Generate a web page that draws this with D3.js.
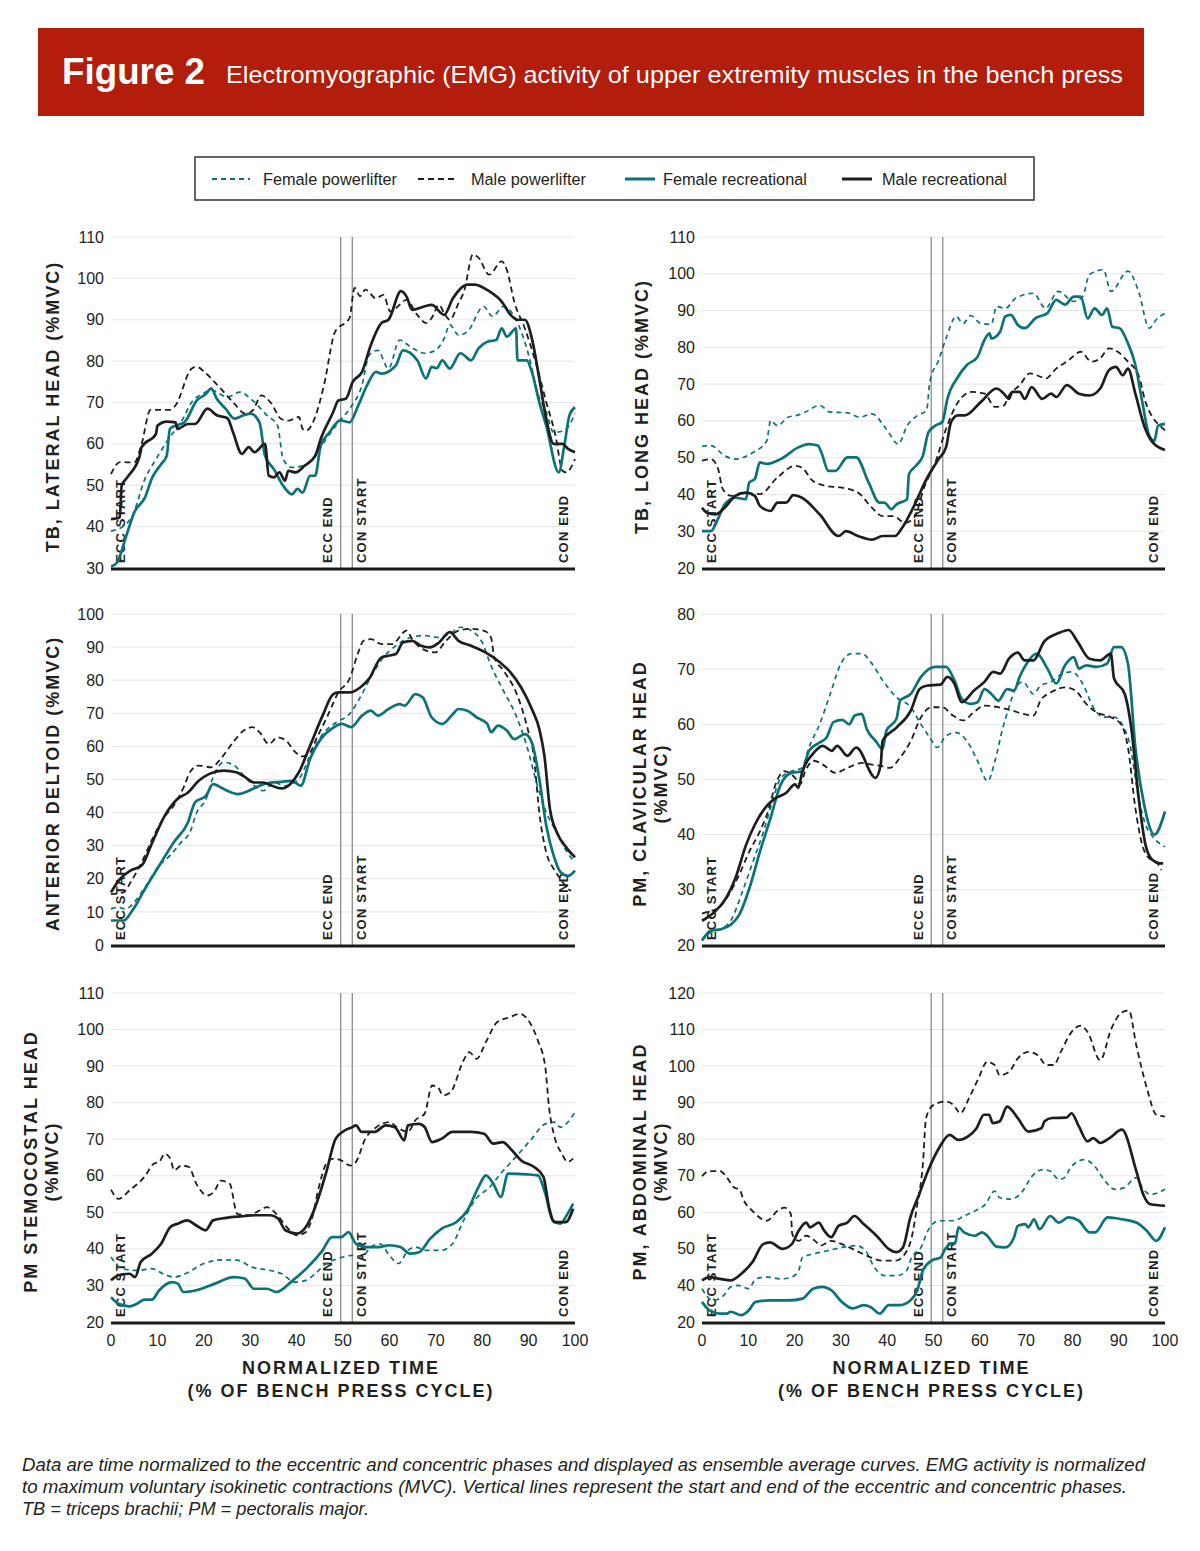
<!DOCTYPE html>
<html lang="en">
<head>
<meta charset="UTF-8">
<title>Figure 2 - EMG bench press</title>
<script src="https://d3js.org/d3.v7.min.js"></script>
<style>
  body { margin: 0; background: #fff; }
  svg { display: block; font-family: "Liberation Sans", Arial, Helvetica, sans-serif; }
  .tick-label { font-size: 16px; fill: #231f20; }
  .axis-title { font-size: 18px; font-weight: bold; fill: #231f20; letter-spacing: 2px; }
  .phase { font-size: 13px; font-weight: bold; fill: #231f20; letter-spacing: 1.2px; }
</style>
</head>
<body>
<div id="chart"></div>
<script>
// ---- series: [normalized time %, EMG %MVC] ----
const seriesNames = ["Female powerlifter", "Male powerlifter", "Female recreational", "Male recreational"];
const phaseX = [49.5, 52];
const phaseLabels = [["ECC START", 2.3], ["ECC END", 46.9], ["CON START", 54.2], ["CON END", 97.7]];
const xTicks = [0, 10, 20, 30, 40, 50, 60, 70, 80, 90, 100];

// TB, lateral head
const latFP = [[0,38.9],[3.5,40.9],[4.6,42.6],[7.3,51.5],[9.7,56.3],[12.4,61.2],[15.1,65.2],[17.4,70.1],[19.7,72.1],[21.6,73],[25.1,71.3],[27.8,72.5],[30.5,70.5],[33.6,66.9],[35.9,64.4],[37.1,56.3],[39,54.3],[41.3,54.7],[43.6,56.3],[45.9,60.4],[49,65.2],[51.7,68.9],[54.1,74.2],[55.6,81.4],[57.5,82.6],[59.8,78.2],[62.2,85.1],[64.5,83.5],[67.6,81.9],[69.9,82.6],[71.8,85.5],[73,88.8],[74.9,86.3],[76.8,87.1],[80.3,93.2],[82.2,90.8],[84.6,93.2],[87.3,90],[90,81.5],[91.9,72.5],[93.8,67.7],[95.4,62.8],[97.7,63.2],[100,67.3]];
const latMP = [[0,52.7],[1.9,55.6],[5,55.5],[6.6,60],[8.5,68.2],[12.7,68.2],[13.9,69.3],[17.4,78.2],[18.5,78.6],[20.5,77],[23.6,73.4],[26.3,70.1],[29,67.3],[30.5,68],[32.4,71.7],[34.4,70],[36.7,66],[38.2,65.6],[40.5,66.5],[41.3,63.6],[42.1,63.2],[44,66.5],[45.9,74.2],[48.3,87.1],[51.4,90.4],[52.5,97.7],[53.7,95.7],[54.8,97.3],[57.1,95.2],[58.7,96],[60.2,92],[61.4,92.8],[63.7,94.8],[66,91.2],[67.9,89.2],[69.1,90.4],[70.7,93.6],[71.8,91.6],[73,90],[74.9,94],[76.1,96.9],[78,105.8],[79.2,105],[81.5,100.9],[84.2,104.1],[85.3,102.1],[86.9,94.4],[89.2,87.9],[91.5,79.8],[93.8,70.1],[95.8,62],[97.3,53.5],[98.1,53.1],[100,56.3]];
const latFR = [[0,30.4],[1.2,31.2],[3.5,38.5],[5,43.4],[7.3,47],[8.9,51.9],[10.8,55.1],[12,57.1],[12.7,63.6],[13.9,64.4],[15.8,65.2],[18.5,70.5],[20.5,72.1],[21.6,73.4],[22.8,70.9],[24.7,68.5],[26.6,66.1],[28.6,66.9],[30.1,67.3],[32,65.2],[33.2,57.1],[35.1,53.9],[37.1,49.9],[39,47.8],[40.2,49.1],[41.3,48.2],[42.9,52.3],[44,52.3],[45.2,59.6],[47.1,62.8],[49.4,65.7],[51.4,65.2],[53.3,69.3],[55.2,74.2],[57.1,77.4],[58.3,77],[61.4,79],[62.9,82.6],[66,80.2],[67.9,75.8],[69.1,78.6],[70.2,78.3],[71.4,80.2],[73,78.2],[75.3,81.9],[77.6,80.2],[79.2,83.1],[81.1,84.7],[83,85.1],[84.2,87.9],[85.3,85.9],[87.3,87.9],[87.6,80.2],[89.6,80.2],[90.7,77.4],[92.3,70.1],[93.8,64.4],[96.5,53.1],[97.7,59.6],[98.8,66.9],[100,68.9]];
const latMR = [[0,41.8],[1.9,42.2],[2.3,49.9],[3.5,51.9],[6.2,57.1],[6.6,59.2],[9.7,62.4],[10,64.4],[12,65.4],[13.9,65.2],[14.3,63.6],[16.6,64.8],[18.1,64.8],[20.8,68.5],[22.8,66.9],[25.1,66.2],[26.3,62.8],[28.2,57.6],[29.7,59.2],[30.9,58],[33.2,60],[34,52.3],[35.1,51.9],[36.3,53.1],[37.5,51.1],[38.2,53.5],[39.8,53.1],[41.7,54.7],[44,57.1],[45.2,61.2],[47.9,67.7],[49,70.5],[50.6,70.9],[52.1,75],[54.1,77.4],[56,83.9],[58.3,89.2],[59.8,90],[62.5,96.9],[63.7,95.6],[64.9,92.4],[69.1,93.6],[71.8,91.2],[73.7,95.2],[76.8,98.5],[78.4,98.5],[81.5,96.9],[84.2,94.4],[86.1,91.2],[87.6,90],[89.2,90],[90.7,85.5],[92.3,75.8],[93.8,66.1],[95.4,60],[97.3,60],[98.5,58.8],[100,58]];

// TB, long head
const longFP = [[0,53.1],[1.9,53.3],[4.9,50.5],[7.2,49.6],[11,51.4],[14,54.6],[14.8,60.1],[16.3,58.7],[18.6,61],[20.5,61.5],[22.3,62.4],[25.4,64.2],[27.7,62.4],[31.4,62.2],[34.1,61],[36.7,61.9],[39.8,57.8],[42.4,53.7],[44.3,58.7],[46.6,61.5],[48.5,62.8],[49.2,70.6],[51.1,76.5],[52.7,82.4],[54.9,88.4],[56.4,86.5],[58,88.6],[60.2,86.5],[62.5,86.3],[63.6,91.1],[65.5,90.6],[67.8,93.4],[71.6,94.7],[74.2,90.6],[76.9,95.2],[80.3,92.5],[82.2,93.8],[83.7,99.8],[86.7,101.1],[88.3,95.2],[92,100.7],[94.3,95.2],[96.6,85.2],[98.1,87.5],[100,89.3]];
const longMP = [[0,49.2],[1.9,49.6],[3.4,47.3],[4.5,41.4],[6.4,39.6],[8.7,40.5],[12.5,40.1],[16.3,44.6],[20.1,47.8],[21.6,47.3],[23.9,43.7],[26.9,42.3],[29.9,41.9],[33.7,40.5],[36.7,36.4],[39,34.1],[41.3,34.1],[43.9,32.3],[45.8,33.7],[48.1,42.3],[50.4,48.7],[52.7,57.8],[55.3,65.1],[58.3,67.9],[61,67.4],[63.3,63.8],[65.2,64.2],[66.3,66.9],[68.6,69.7],[70.8,72.9],[73.1,72],[74.2,71.5],[76.5,74.2],[79.2,76.5],[81.8,78.8],[84.1,76.1],[86,77],[87.9,79.7],[89.8,78.8],[92,76.1],[94.3,72.4],[95.8,65.1],[97.3,61],[98.9,58.7],[100,57.4]];
const longFR = [[0,30],[1.9,30],[3.4,33.2],[4.9,37.3],[7.2,39.1],[9.5,38.7],[10.2,43.2],[11.4,44.2],[12.5,48.7],[14,48.3],[17,49.6],[20.8,52.8],[23.1,53.7],[25,53.3],[25.8,51.4],[27.3,46.4],[28.8,46.4],[31.4,50.1],[33.3,50.1],[36,43.2],[38.3,37.8],[39.4,37.8],[40.9,36],[42,37.3],[44.3,38.7],[44.7,45.5],[46.2,47.8],[47.7,50.5],[48.9,56.9],[50.4,58.7],[51.9,59.7],[53,66],[55.3,72],[57.2,75.2],[59.5,77.4],[61,82],[62.1,83.8],[62.5,82.4],[64.4,84.3],[65.5,88.4],[66.7,88.8],[68.2,86.1],[69.7,85.2],[72,87.9],[74.6,89.3],[76.5,92.9],[78.4,91.6],[80.3,93.8],[81.8,93.8],[83.3,87.9],[84.8,90.6],[86.4,88.8],[87.5,90.6],[88.6,85.6],[90.2,85.2],[92,81.1],[93.6,75.2],[95.1,65.1],[96.6,56],[97.7,54.6],[98.5,58.7],[100,59.2]];
const longMR = [[0,36.4],[1.1,35],[3,34.6],[4.9,36.4],[7.2,39.6],[9.5,40.5],[11.4,39.6],[12.5,36.9],[14.8,35.5],[16.3,37.8],[18.2,37.8],[19.7,39.8],[21.6,39.1],[25.4,34.6],[29.5,28.7],[31.1,30],[33.7,28.7],[36.7,27.7],[39,28.7],[41.7,28.7],[43.2,30.9],[45.8,36.9],[48.5,44.2],[51.1,49.6],[52.7,52.8],[53.8,59.7],[55.3,61.5],[56.8,61.5],[60.2,65.1],[63.6,68.8],[65.2,67.4],[66.3,66],[67,67.9],[68.6,67.9],[69.7,66],[71.2,69.2],[73.5,66],[75.4,67.4],[76.5,66.5],[78.8,69.7],[81.4,67.4],[83.7,66.9],[86,68.8],[87.9,73.8],[89.4,74.7],[90.9,72.4],[92,74.2],[93.6,67.4],[95.5,58.7],[97.3,54.2],[100,52.1]];

// Anterior deltoid
const deltFP = [[0,10.9],[1.5,11.4],[3.1,10.9],[5,12.9],[7.3,17.4],[10.4,24],[12.7,27],[15.1,31],[17,34],[18.5,40.1],[20.5,44.1],[22,50.7],[24.3,55.2],[26.6,54.2],[28.9,50.7],[30.9,48.1],[32.8,46.6],[35.1,49.1],[37.5,48.1],[40.5,50.2],[42.9,57.2],[45.9,64.2],[48.6,67.3],[51.4,69.8],[53.7,74.8],[56,80.9],[58.7,86.9],[61.4,90.4],[64.5,92.9],[67.6,93.5],[70.7,92.9],[73,94],[75.3,96],[77.6,95],[80,91.4],[81.9,84.4],[84.6,76.8],[87.3,69.3],[89.6,60.2],[91.9,48.1],[93.8,40.1],[96.1,34],[98.1,28.5],[100,25]];
const deltMP = [[0,15.4],[2.7,15.9],[4.2,18.9],[6.6,25],[8.9,32],[11.2,38.1],[13.5,42.1],[15.8,48.1],[17,52.2],[18.9,54.2],[21.6,53.7],[23.6,56.2],[26.3,61.2],[28.6,64.8],[30.5,65.8],[32,64.3],[34,60.7],[35.9,62.7],[37.8,61.7],[39.4,58.7],[41.3,57],[42.9,58.2],[44.4,62.7],[46.7,69.3],[49,76.3],[51.4,80.4],[53.3,88.4],[54.4,91.9],[56,92.4],[58.3,90.9],[60.6,90.9],[63.7,95],[64.9,92.4],[67.2,89.4],[69.9,88.4],[72.2,91.9],[74.9,95],[77.6,95.5],[80.3,95],[81.9,92.9],[82.6,86.9],[84.6,82.9],[87.6,75.3],[90,64.2],[91.1,57.2],[92.3,40.1],[93.8,28],[95.4,23],[96.9,19.9],[98.5,16.9],[99.2,16.4]];
const deltFR = [[0,7.4],[2.7,7.4],[4.6,10.4],[7.3,16.9],[10.4,24],[13.5,31],[16.6,37.1],[18.1,43.1],[20.5,45.1],[22,48.6],[24.3,47.1],[27.4,45.6],[29.7,46.6],[32,48.1],[34.4,49.1],[36.7,49.3],[39,49.6],[40.9,48.1],[42.9,56.2],[45.2,62.2],[47.5,65.3],[49.8,66.8],[51.7,65.8],[54.1,69.3],[56,70.8],[57.5,69.3],[59.8,71.3],[62.2,72.8],[63.3,72.3],[65.6,75.8],[67.2,74.8],[69.1,68.8],[71.4,66.8],[73.4,69.3],[74.9,71.3],[76.8,70.8],[78.8,68.8],[81.1,66.8],[81.9,64.3],[83.4,66.3],[85.3,64.8],[86.9,62.2],[89.2,63.7],[90.7,61.2],[92.3,50.2],[93.8,36.1],[95.4,27],[96.9,22],[98.5,20.9],[100,22.5]];
const deltMR = [[0,15.9],[1.9,19.9],[4.2,22.5],[6.6,24],[8.9,31],[11.6,39.1],[14.3,44.1],[16.6,46.1],[18.9,49.6],[21.2,51.7],[24.3,52.7],[27,52.2],[28.9,50.7],[30.9,49.1],[32.8,49.1],[34.7,48.1],[36.7,47.3],[38.6,48.6],[40.5,52.2],[42.9,60.2],[45.6,69.3],[47.9,75.8],[49,76.3],[51.4,76.3],[53.7,77.8],[55.6,80.4],[58.3,86.9],[59.8,87.4],[61.4,87.9],[62.9,91.4],[64.9,91.9],[66.8,90.4],[68.7,89.9],[70.7,91.4],[73,94.5],[74.9,91.9],[77.6,90.4],[80.7,88.4],[83.8,85.4],[86.1,82.4],[88.4,77.8],[90.7,71.3],[92.3,65.3],[93.4,57.2],[94.6,41.1],[96.1,34],[98.1,29.5],[100,26.5]];

// PM, clavicular head
const clavFP = [[0,20.8],[1.9,22.3],[4.2,22.9],[6.4,24.7],[8.7,29.6],[11,35.1],[13.3,40.6],[15.2,46],[17,50.3],[19.3,51.5],[21.6,52.1],[23.1,55.8],[25.4,60],[27.7,65.5],[30,71],[32.3,72.8],[34.5,72.8],[36.7,71],[39,68],[42,64.9],[45.1,63.1],[47.3,60],[49.2,57.6],[50.8,55.8],[52.7,57.9],[54.9,58.5],[57.2,57],[59.5,53.4],[61.7,49.7],[63.3,53.4],[64.8,58.8],[66.3,63.1],[67.8,66.7],[69.3,67.7],[71.6,65.5],[73.1,67],[75.4,67.7],[77.3,68.9],[79.9,69.5],[82.2,67.4],[84.5,63.1],[86.7,61.3],[89,61.3],[90.9,59.7],[92.4,56.4],[94.3,46.7],[95.8,41.8],[97.3,39.7],[100,37.8]];
const clavMP = [[0,25.7],[1.1,26],[3.4,26.6],[5.7,29],[8,32.7],[10.2,36.9],[12.5,40.6],[14,43.6],[16.3,50],[17.8,51.5],[20.1,50.3],[21.2,49.1],[22.3,51.5],[24.2,53.4],[26.1,52.7],[28.8,51.2],[31.4,52.1],[34.5,53],[36.7,52.7],[39,52.4],[40.5,52.1],[42.8,54],[45.1,57],[47.3,61.3],[49.6,63.1],[51.9,63.1],[54.2,61.6],[56.4,60.7],[58.7,62.2],[61,63.4],[64,63.1],[67,62.5],[69.3,61.9],[71.6,61.6],[73.1,64.3],[75.4,65.8],[78.4,66.7],[80.7,66.1],[83,63.7],[85.2,62.2],[88.3,61.3],[90.5,60],[92,55.8],[93.6,44.8],[95.1,38.1],[96.6,35.7],[98.1,35.1],[99.2,33.6]];
const clavFR = [[0,20.8],[1.9,22.6],[4.2,22.9],[6.4,23.8],[8,25.4],[10.2,30.2],[12.5,36.9],[14.8,43],[17,49.1],[19.3,51.2],[21.6,51.5],[23.1,55.2],[25.4,56.7],[26.9,57.6],[28.4,60.4],[30.3,60.8],[31.8,60],[33,61.6],[34.5,61.9],[35.6,59.1],[37.5,57],[39,55.5],[39.8,58.8],[42,61],[42.8,64.3],[45.1,65.5],[47.3,68.6],[50.4,70.4],[52.7,70.4],[54.5,68],[56.1,64.6],[58,63.7],[59.5,64],[61,66.4],[62.5,65.5],[64,64.3],[65.9,66.4],[67.4,66.1],[68.6,68.6],[70.1,71],[72.3,72.8],[74.6,70.1],[76.5,67.4],[78.4,70.7],[80.3,72.2],[81.4,70.1],[83,70.7],[85.2,70.4],[87.5,71],[89,74],[90.5,74],[92,71],[93.6,55.8],[95.5,45.4],[97.7,40],[100,44.2]];
const clavMR = [[0,24.4],[2.7,26],[4.9,28.1],[7.2,32.1],[9.5,38.1],[11.4,41.8],[13.6,44.8],[15.5,46.4],[18.2,47.6],[20.1,49.1],[20.8,48.5],[21.6,51.2],[23.9,54.6],[26.1,56.1],[28,55.2],[29.2,56.1],[31.4,54.3],[33.3,55.8],[37.5,50.3],[38.6,52.7],[39,57],[42,59.4],[45.1,62.5],[47,66.4],[48.5,67],[51.5,67.2],[53,68.6],[54.5,67.4],[56.1,64],[58.7,66.1],[61,67.7],[62.9,69.5],[64.4,69.2],[66.3,71.9],[68.2,73],[69.7,71.6],[71.6,71.6],[73.9,75],[76.9,76.5],[79.2,77.1],[81.1,75],[83.7,71.9],[86,71.6],[88.3,72.8],[89,68.3],[91.3,65.5],[92.8,58.8],[94.3,46.7],[95.8,38.1],[97.3,35.4],[98.9,34.8],[99.6,34.8]];

// PM, sternocostal head
const sternFP = [[0,37.8],[2.4,34.6],[5.6,34.1],[8.8,34.6],[11.2,33.2],[13.6,32.3],[16,33.2],[20,36],[24,37],[27.2,36.9],[30.4,35],[34.4,34.1],[36.8,33.2],[39.6,30.9],[42,31.4],[44,33.2],[46.4,36],[48.8,37.3],[52,38.2],[54,37.8],[56,40.5],[58,41.4],[60,38.2],[62,36],[64,39.6],[65.6,40.5],[68,39.6],[71.2,39.6],[73.6,41.4],[76,47.8],[78.4,53.3],[81.6,56.9],[84,60.6],[87.2,65.1],[90.4,69.7],[93.6,74.2],[95.6,74.7],[96.8,73.3],[100,77.4]];
const sternMP = [[0,56.2],[1.6,53.7],[4,56],[7.2,59.7],[9.2,63.3],[10.4,63.8],[11.6,66],[12.8,64.7],[13.6,61.5],[15.2,62.8],[16.8,62.4],[18.4,57.8],[20.8,54.6],[22.4,56],[23.6,58.7],[25.6,57.8],[27.2,49.6],[29.6,49.2],[32,50.5],[33.6,51.4],[35.6,49.6],[37.6,46.4],[40,43.7],[42,44.6],[43.2,47.8],[44.8,56.9],[46.4,63.3],[48,64.7],[49.6,64.2],[51.6,62.8],[52.8,63.8],[54.8,70.1],[56.8,72.9],[60,74.7],[61.6,73.3],[64,72],[65.6,75.2],[67.6,77],[69.2,84.7],[70.4,84.3],[71.6,82],[73.2,82.9],[76,91.6],[77.2,93.8],[78.8,92],[80.8,96.6],[83.2,102],[86,103.4],[88,104.3],[90.4,101.6],[92,97],[93.6,89.7],[94.4,78.8],[95.6,70.6],[97.2,66],[98.4,63.8],[99.6,64.7]];
const sternFR = [[0,26.8],[1.6,25],[4,24.3],[5.6,25],[7.2,26.1],[8.8,26.1],[10.4,28.7],[13.2,30.9],[14.4,30.5],[15.6,28.2],[18.4,28.7],[22.4,30.5],[26.4,32.3],[28.8,31.9],[30.8,29.1],[33.6,29.1],[35.6,28.2],[39.2,31.4],[42.4,35],[45.6,39.6],[47.6,43.2],[49.6,43.2],[51.2,44.6],[52.8,41.4],[55.2,40.5],[57.6,40.5],[60,41],[62.4,40.5],[64.4,38.7],[66.4,39.1],[68.8,42.8],[71.2,45.5],[74.4,47.3],[76.8,50.5],[79.2,56.9],[80.8,60.1],[82.4,57.8],[84,54.2],[85.6,60.6],[89.6,60.4],[92,60.1],[93.6,55.1],[95.2,47.8],[96.8,46.9],[98.4,49.6],[99.6,52.4]];
const sternMR = [[0,31.4],[1.6,32.8],[4,33.2],[5.2,32.3],[6.4,36.4],[8.8,38.7],[10.8,41.4],[12.8,46],[14.4,46.9],[16.4,47.8],[18.4,46.4],[20.4,45.1],[22,47.8],[24.8,48.5],[28,48.9],[31.2,49.2],[34.4,49.2],[36,48.3],[37.6,45.1],[40,44.2],[42,46],[44,51.4],[46.4,61],[48.4,70.1],[50.4,72.4],[52,73.3],[52.8,73.8],[54,72],[56.8,72],[59.2,73.8],[61.2,73.3],[63.2,69.7],[64,73.8],[66.4,74.2],[67.6,73.3],[69.2,69.2],[71.2,70.1],[73.6,72],[77.6,72],[80.4,71.5],[82.4,68.8],[84.4,69.2],[86.4,67],[88.4,64.2],[91.2,62.4],[93.2,59.7],[94.4,51.4],[95.6,47.3],[98,47.3],[99.6,51]];

// PM, abdominal head (bottom tick of the original axis is printed as "20")
const abdFP = [[0,39.1],[2.3,35.9],[4.7,37.3],[6.2,39.6],[7.8,40],[10.1,39.1],[11.6,41.8],[14,42.3],[17.1,41.8],[19.4,42.3],[20.9,44.1],[21.7,47.7],[24,48.6],[27.1,49.5],[30.2,50.4],[33.3,50.9],[35.3,49.5],[37.2,45],[39.5,42.7],[42.2,42.7],[44.2,44.1],[45.3,47.7],[47.3,50.4],[48.8,55],[51.2,57.7],[54.3,57.7],[56.6,59],[59,60.4],[61.2,62.2],[63.2,65.8],[64.3,64],[66.7,63.6],[69,65.4],[71.3,69.9],[73.6,71.7],[75.2,71.3],[77.1,69],[78.3,69.5],[79.8,72.6],[82.6,74.4],[84.5,73.1],[86.8,69],[89.1,66.3],[91.1,66.7],[93.8,69.5],[95.3,66.3],[96.9,64.9],[100,66.3]];
const abdMP = [[0,69.9],[1.6,71.3],[3.9,71.3],[5.4,69.5],[7,66.7],[8.1,66.3],[8.9,63.6],[10.9,60.4],[14,57.7],[16.3,60.4],[17.8,61.3],[19.2,59.5],[19.5,54],[20.9,52.2],[22.5,53.6],[24.4,52.2],[25.6,50.9],[27.9,52.2],[30.2,51.3],[33.3,49.5],[36.4,47.7],[38.8,46.8],[41.9,46.8],[43.8,48.6],[45.3,53.2],[46.5,62.2],[47.7,73.1],[48.4,85.8],[50,89.4],[52.7,90.3],[54.3,89.4],[55.8,87.1],[57.8,91.6],[59.7,96.6],[61.6,101.2],[63.2,100.3],[64.3,97.5],[66.3,98.4],[68.2,102.1],[70.5,103.9],[72.5,103],[74.4,100.3],[76,100.3],[77.5,103.9],[79.8,109.3],[81.8,111.1],[83.3,109.3],[86,101.6],[88.4,110.2],[90.7,114.7],[92.2,115.2],[93.8,105.7],[96.1,93.9],[98.1,86.7],[100,86.2]];
const abdFR = [[0,35.5],[1.6,33.2],[3.9,32.3],[5.4,32.3],[6.2,32.8],[8.5,31.9],[10.1,33.2],[11.6,35.5],[14.7,35.9],[18.6,35.9],[21.7,36.4],[24,39.1],[26,39.6],[27.9,38.7],[30.2,35.5],[32.6,33.7],[34.9,34.6],[36.4,34.1],[38.4,32.3],[40.3,34.6],[42.6,34.6],[45,35.9],[46.5,38.7],[47.7,44.1],[49.6,46.8],[51.6,47.7],[52.3,49.5],[53.5,51.3],[54.7,51.8],[55.4,55.9],[56.6,54.5],[58.9,53.6],[60.5,54.5],[61.6,53.6],[63.6,50.6],[65.5,50.4],[67.4,53.2],[68.2,56.3],[69.8,56.8],[70.5,55.9],[71.7,58.1],[72.9,55.4],[75.2,59],[77.1,57.2],[79.1,58.6],[81.4,57.7],[83.7,54.5],[84.9,54.5],[87.6,58.6],[90.7,58.1],[93.8,57.2],[96.1,54.9],[98.1,52.2],[100,55.9]];
const abdMR = [[0,41.4],[1.6,42.3],[3.9,41.8],[6.2,41.4],[8.5,43.2],[10.9,46.4],[13.2,51.3],[14.7,51.8],[17.4,50],[19.4,51.3],[20.9,55],[22.5,57.2],[23.3,55.9],[25.2,57.2],[26.4,55],[27.9,53.2],[29.5,56.3],[31.4,57.2],[32.9,59],[34.9,56.8],[38,53.2],[40.3,50],[41.9,49.1],[43.4,50.4],[45,58.6],[46.9,64.9],[48.8,71.3],[51.2,77.6],[53.5,81.2],[55.4,79.8],[57.4,80.7],[59.3,83],[60.9,86.7],[62,86.7],[62.8,84.4],[64.3,84.9],[65.9,88.9],[68.2,85.8],[70.5,82.1],[73.3,83],[74,84.9],[75.6,85.8],[78.7,85.9],[79.8,87.1],[81.4,83.5],[83.3,79.4],[84.5,80.3],[86,79],[88,80.3],[90.7,82.6],[93.8,71.3],[95.3,64.9],[96.9,62.2],[100,61.8]];

// ---- panel axes ----
const latTicks = [30, 40, 50, 60, 70, 80, 90, 100, 110];
const longTicks = [20, 30, 40, 50, 60, 70, 80, 90, 100, 110];
const deltTicks = [0, 10, 20, 30, 40, 50, 60, 70, 80, 90, 100];
const clavTicks = [20, 30, 40, 50, 60, 70, 80];
const sternTicks = [20, 30, 40, 50, 60, 70, 80, 90, 100, 110];
const abdTicks = [30, 40, 50, 60, 70, 80, 90, 100, 110, 120];
const abdTickLabels = ["20", "40", "50", "60", "70", "80", "90", "100", "110", "120"];

const W = 1200, H = 1551;
const cols = [[111, 575], [702, 1165]];
const rows = [[237, 568], [614, 945], [993, 1322]];
const teal = "#0b7377", ink = "#1e1e1e";

const panels = [
  { col: 0, row: 0, domain: [30, 110], ticks: latTicks, series: [latFP, latMP, latFR, latMR], title: ["TB, LATERAL HEAD (%MVC)"], tx: [54] },
  { col: 1, row: 0, domain: [20, 110], ticks: longTicks, series: [longFP, longMP, longFR, longMR], title: ["TB, LONG HEAD (%MVC)"], tx: [643] },
  { col: 0, row: 1, domain: [0, 100], ticks: deltTicks, series: [deltFP, deltMP, deltFR, deltMR], title: ["ANTERIOR DELTOID (%MVC)"], tx: [54] },
  { col: 1, row: 1, domain: [20, 80], ticks: clavTicks, series: [clavFP, clavMP, clavFR, clavMR], title: ["PM, CLAVICULAR HEAD", "(%MVC)"], tx: [641, 662] },
  { col: 0, row: 2, domain: [20, 110], ticks: sternTicks, series: [sternFP, sternMP, sternFR, sternMR], title: ["PM STEMOCOSTAL HEAD", "(%MVC)"], tx: [32, 53], xAxis: true },
  { col: 1, row: 2, domain: [30, 120], ticks: abdTicks, labels: abdTickLabels, series: [abdFP, abdMP, abdFR, abdMR], title: ["PM, ABDOMINAL HEAD", "(%MVC)"], tx: [641, 662], xAxis: true }
];

const styles = [
  { stroke: teal, width: 1.7, dash: "5,4" },
  { stroke: ink, width: 1.8, dash: "6,4" },
  { stroke: teal, width: 2.7, dash: null },
  { stroke: ink, width: 2.7, dash: null }
];

const svg = d3.select("#chart").append("svg")
  .attr("width", W).attr("height", H);

svg.append("rect").attr("width", W).attr("height", H).attr("fill", "#fff");

// header band
svg.append("rect").attr("x", 38).attr("y", 28).attr("width", 1106).attr("height", 88).attr("fill", "#b31d0b");
svg.append("text").attr("x", 62).attr("y", 84)
  .attr("fill", "#fff").attr("font-size", 37).attr("font-weight", "bold")
  .attr("textLength", 143).attr("lengthAdjust", "spacingAndGlyphs")
  .text("Figure 2");
svg.append("text").attr("x", 226).attr("y", 83)
  .attr("fill", "#fff").attr("font-size", 24)
  .attr("textLength", 897).attr("lengthAdjust", "spacingAndGlyphs")
  .text("Electromyographic (EMG) activity of upper extremity muscles in the bench press");

// legend
const legend = svg.append("g");
legend.append("rect").attr("x", 195).attr("y", 157).attr("width", 839).attr("height", 43)
  .attr("fill", "none").attr("stroke", "#333").attr("stroke-width", 1.5);
const legendX = [[212, 250, 263], [418, 457, 471], [625, 655, 663], [842, 872, 882]];
seriesNames.forEach((name, i) => {
  const st = styles[i];
  legend.append("line").attr("x1", legendX[i][0]).attr("x2", legendX[i][1])
    .attr("y1", 179).attr("y2", 179)
    .attr("stroke", st.stroke).attr("stroke-width", st.dash ? 2 : 3)
    .attr("stroke-dasharray", st.dash);
  legend.append("text").attr("x", legendX[i][2]).attr("y", 185)
    .attr("font-size", 16.3).attr("fill", "#231f20").text(name);
});

panels.forEach(p => {
  const [x0, x1] = cols[p.col];
  const [yTop, yBot] = rows[p.row];
  const x = d3.scaleLinear().domain([0, 100]).range([x0, x1]);
  const y = d3.scaleLinear().domain(p.domain).range([yBot, yTop]);
  const g = svg.append("g");

  // gridlines
  g.selectAll(".grid").data(p.ticks.slice(1)).enter().append("line")
    .attr("x1", x0).attr("x2", x1)
    .attr("y1", d => y(d)).attr("y2", d => y(d))
    .attr("stroke", "#e6e6e6").attr("stroke-width", 1);

  // y tick labels
  g.selectAll(".tick-label").data(p.ticks).enter().append("text")
    .attr("class", "tick-label")
    .attr("x", x0 - 7).attr("y", d => y(d)).attr("dy", "0.35em")
    .attr("text-anchor", "end")
    .text((d, i) => p.labels ? p.labels[i] : d);

  // y title
  const yc = (yTop + yBot) / 2 + 4;
  p.title.forEach((t, i) => {
    g.append("text").attr("class", "axis-title")
      .attr("transform", `translate(${p.tx[i]},${yc}) rotate(-90)`)
      .attr("text-anchor", "middle").attr("dominant-baseline", "middle")
      .text(t);
  });

  // phase boundary lines
  g.selectAll(".phase-line").data(phaseX).enter().append("line")
    .attr("x1", d => x(d)).attr("x2", d => x(d))
    .attr("y1", yTop).attr("y2", yBot)
    .attr("stroke", "#8c8c8c").attr("stroke-width", 1.3);

  // phase labels
  phaseLabels.forEach(([t, pos]) => {
    g.append("text").attr("class", "phase")
      .attr("transform", `translate(${x(pos)},${yBot - 5}) rotate(-90)`)
      .attr("dominant-baseline", "middle")
      .text(t);
  });

  // curves
  const line = d3.line()
    .x(d => x(d[0])).y(d => y(d[1]))
    .curve(d3.curveMonotoneX);
  p.series.forEach((s, i) => {
    const st = styles[i];
    g.append("path").datum(s)
      .attr("d", line)
      .attr("fill", "none")
      .attr("stroke", st.stroke)
      .attr("stroke-width", st.width)
      .attr("stroke-dasharray", st.dash)
      .attr("stroke-linejoin", "round");
  });

  // baseline
  g.append("line").attr("x1", x0).attr("x2", x1)
    .attr("y1", yBot + 1).attr("y2", yBot + 1)
    .attr("stroke", "#1a1a1a").attr("stroke-width", 3.2);

  if (p.xAxis) {
    g.selectAll(".xtick").data(xTicks).enter().append("text")
      .attr("class", "tick-label")
      .attr("x", d => x(d)).attr("y", yBot + 18).attr("dy", "0.35em")
      .attr("text-anchor", "middle")
      .text(d => d);
    const xc = (x0 + x1) / 2 - 2;
    g.append("text").attr("class", "axis-title").attr("font-size", 19)
      .attr("x", xc).attr("y", 1374).attr("text-anchor", "middle")
      .text("NORMALIZED TIME");
    g.append("text").attr("class", "axis-title").attr("font-size", 19)
      .attr("x", xc).attr("y", 1397).attr("text-anchor", "middle")
      .text("(% OF BENCH PRESS CYCLE)");
  }
});

// caption
const captionLines = [
  "Data are time normalized to the eccentric and concentric phases and displayed as ensemble average curves. EMG activity is normalized",
  "to maximum voluntary isokinetic contractions (MVC). Vertical lines represent the start and end of the eccentric and concentric phases.",
  "TB = triceps brachii; PM = pectoralis major."
];
const captionLen = [1123, 1105, null];
svg.selectAll(".caption").data(captionLines).enter().append("text")
  .attr("x", 22).attr("y", (d, i) => 1471 + i * 22)
  .attr("font-size", 18.2).attr("font-style", "italic").attr("fill", "#231f20")
  .attr("textLength", (d, i) => captionLen[i])
  .attr("lengthAdjust", "spacingAndGlyphs")
  .text(d => d);
</script>
</body>
</html>
